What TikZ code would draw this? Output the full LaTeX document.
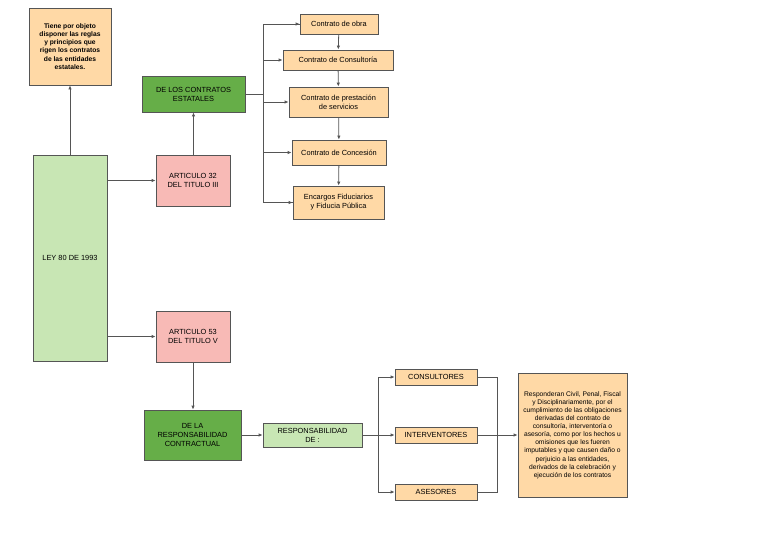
\documentclass[tikz,border=0pt]{standalone}
\usepackage{fontspec}
\setmainfont{Liberation Sans}
\usetikzlibrary{arrows.meta}
\definecolor{peach}{HTML}{FFD9A6}
\definecolor{lgreen}{HTML}{C8E6B4}
\definecolor{dgreen}{HTML}{66AE48}
\definecolor{pink}{HTML}{F8BAB6}
\definecolor{edge}{HTML}{555555}
\begin{document}
\begin{tikzpicture}[x=1pt,y=-1pt,
 box/.style={draw=edge,line width=0.8pt,align=center,inner sep=1pt,font=\fontsize{7.4}{9}\selectfont},
 small/.style={font=\fontsize{6.7}{8.1}\selectfont},
 smallb/.style={font=\fontsize{6.7}{8.1}\selectfont\bfseries},
 ar/.style={draw=edge,line width=0.8pt,-{Latex[length=4pt,width=3.5pt]}},
 ln/.style={draw=edge,line width=0.8pt}]
\useasboundingbox (0,0) rectangle (768,543);
\newcommand{\bx}[8][]{\node[box,#1,fill=#7,minimum width=#5-#3,minimum height=#6-#4] (#2) at ({(#3+#5)/2},{(#4+#6)/2}) {#8};}
\bx[smallb]{tiene}{29}{8}{111}{85}{peach}{Tiene por objeto\\disponer las reglas\\y principios que\\rigen los contratos\\de las entidades\\estatales.}
\bx{ley}{33}{155}{107}{361}{lgreen}{LEY 80 DE 1993}
\bx{dlc}{142}{76}{245}{112}{dgreen}{DE LOS CONTRATOS\\ESTATALES}
\bx{a32}{156}{155}{230}{206}{pink}{ARTICULO 32\\DEL TITULO III}
\bx{c1}{300}{14}{378}{34}{peach}{Contrato de obra}
\bx{c2}{283}{50}{393}{70}{peach}{Contrato de Consultoría}
\bx{c3}{289}{87}{388}{117}{peach}{Contrato de prestación\\de servicios}
\bx{c4}{292}{140}{386}{165}{peach}{Contrato de Concesión}
\bx{c5}{293}{186}{384}{219}{peach}{Encargos Fiduciarios\\y Fiducia Pública}
\bx{a53}{156}{311}{230}{362}{pink}{ARTICULO 53\\DEL TITULO V}
\bx{dlr}{144}{410}{241}{460}{dgreen}{DE LA\\RESPONSABILIDAD\\CONTRACTUAL}
\bx{rd}{263}{423}{362}{447}{lgreen}{RESPONSABILIDAD\\DE :}
\bx{cons}{395}{369}{477}{385}{peach}{CONSULTORES}
\bx{inte}{395}{427}{477}{443}{peach}{INTERVENTORES}
\bx{ase}{395}{484}{477}{500}{peach}{ASESORES}
\bx[small]{big}{518}{373}{627}{497}{peach}{Responderan Civil, Penal, Fiscal\\y Disciplinariamente, por el\\cumplimiento de las obligaciones\\derivadas del contrato de\\consultoría, interventoría o\\asesoría, como por los hechos u\\omisiones que les fueren\\imputables y que causen daño o\\perjuicio a las entidades,\\derivados de la celebración y\\ejecución de los contratos}
\draw[ar] (ley.north -| tiene.south) -- (tiene.south);
\draw[ar] (ley.east |- a32.west) -- (a32.west);
\draw[ar] (ley.east |- a53.west) -- (a53.west);
\draw[ar] (a32.north -| dlc.south) -- (dlc.south);
\coordinate (t1) at (263,24);
\coordinate (t2) at (263,202);
\draw[ln] (dlc.east) -- (dlc.east -| t1);
\draw[ln] (t1 -| c1.west) -- (t1) -- (t2) -- (t2 -| c5.west);
\foreach \n in {c1,c2,c3,c4,c5} \draw[ar] (\n.west -| t1) -- (\n.west);
\draw[ar] (c1) -- (c2); \draw[ar] (c2) -- (c3); \draw[ar] (c3) -- (c4); \draw[ar] (c4) -- (c5);
\draw[ar] (a53) -- (a53 |- dlr.north);
\draw[ar] (dlr) -- (rd);
\coordinate (u) at (378,0);
\draw[ln] (rd.east) -- (rd.east -| u);
\draw[ln] (cons.west -| u) -- (ase.west -| u);
\foreach \n in {cons,inte,ase} \draw[ar] (\n.west -| u) -- (\n.west);
\coordinate (v) at (497,0);
\draw[ln] (cons.east) -- (cons.east -| v) -- (ase.east -| v) -- (ase.east);
\draw[ln] (inte.east) -- (inte.east -| v);
\draw[ar] (inte.east -| v) -- (big.west |- inte.east);
\end{tikzpicture}
\end{document}
